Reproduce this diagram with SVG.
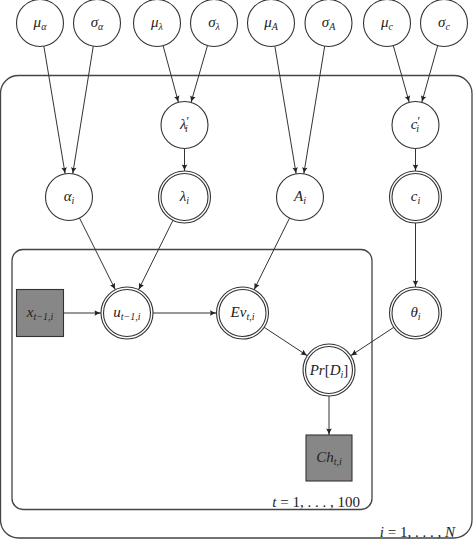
<svg xmlns="http://www.w3.org/2000/svg" width="474" height="539" viewBox="0 0 474 539">
<defs>
<marker id="arr" markerUnits="userSpaceOnUse" markerWidth="8" markerHeight="8" refX="7" refY="4" orient="auto">
<path d="M0.5,1.2 Q4,3.3 7,4 Q4,4.7 0.5,6.8 Q2,4 0.5,1.2 Z" fill="#222"/>
</marker>
</defs>
<style>
.n{fill:#fff;stroke:#333;stroke-width:1.1}
.obs{fill:#878787;stroke:#333;stroke-width:1.1}
.plate{fill:none;stroke:#444;stroke-width:1.3}
.e{stroke:#333;stroke-width:1;fill:none;marker-end:url(#arr)}
.t{font-family:"Liberation Serif","DejaVu Serif",serif;font-style:italic;font-size:15px;fill:#222;text-anchor:middle}
.s{font-size:10px}
.pr{font-size:12px;font-style:normal}
.p{font-family:"Liberation Serif","DejaVu Serif",serif;font-size:15px;fill:#222}
.up{font-style:normal}
</style>
<rect width="474" height="539" fill="#fff"/>
<g id="plates">
<rect class="plate" x="0.5" y="75.5" width="471.5" height="462.5" rx="18"/>
<rect class="plate" x="12" y="249.5" width="360" height="260" rx="11"/>
<text class="p" x="360" y="507" text-anchor="end"><tspan font-style="italic">t</tspan> = 1, . . . , 100</text>
<text class="p" x="455" y="537" text-anchor="end"><tspan font-style="italic">i</tspan> = 1, . . . , <tspan font-style="italic">N</tspan></text>
</g>
<g id="connectors">
<line class="e" x1="43.86" y1="46.18" x2="65.14" y2="173.82"/>
<line class="e" x1="93.27" y1="46.2" x2="72.73" y2="173.8"/>
<line class="e" x1="163.12" y1="45.69" x2="178.38" y2="102.31"/>
<line class="e" x1="207.47" y1="45.58" x2="191.03" y2="102.42"/>
<line class="e" x1="184.5" y1="148.5" x2="184.5" y2="171"/>
<line class="e" x1="274.86" y1="46.18" x2="296.14" y2="173.82"/>
<line class="e" x1="324.7" y1="46.19" x2="303.8" y2="173.81"/>
<line class="e" x1="393.32" y1="45.63" x2="409.18" y2="102.37"/>
<line class="e" x1="437.68" y1="45.63" x2="421.82" y2="102.37"/>
<line class="e" x1="415.5" y1="148.5" x2="415.5" y2="171"/>
<line class="e" x1="415.5" y1="223" x2="415.5" y2="287"/>
<line class="e" x1="79.51" y1="218.02" x2="115.37" y2="289.74"/>
<line class="e" x1="172.95" y1="220.29" x2="138.55" y2="289.71"/>
<line class="e" x1="289.56" y1="218.05" x2="254.05" y2="289.71"/>
<line class="e" x1="63.5" y1="313" x2="101" y2="313"/>
<line class="e" x1="153" y1="313" x2="216.5" y2="313"/>
<line class="e" x1="264.21" y1="327.31" x2="307.29" y2="355.69"/>
<line class="e" x1="393.79" y1="327.31" x2="350.71" y2="355.69"/>
<line class="e" x1="329" y1="396" x2="329" y2="435"/>
</g>
<g id="mu_alpha"><circle class="n" cx="40" cy="23" r="23.5"/><text class="t" x="40" y="27">μ<tspan class="s" dy="3">α</tspan></text></g>
<g id="sigma_alpha"><circle class="n" cx="97" cy="23" r="23.5"/><text class="t" x="97" y="27">σ<tspan class="s" dy="3">α</tspan></text></g>
<g id="mu_lambda"><circle class="n" cx="157" cy="23" r="23.5"/><text class="t" x="157" y="27">μ<tspan class="s" dy="3">λ</tspan></text></g>
<g id="sigma_lambda"><circle class="n" cx="214" cy="23" r="23.5"/><text class="t" x="214" y="27">σ<tspan class="s" dy="3">λ</tspan></text></g>
<g id="mu_A"><circle class="n" cx="271" cy="23" r="23.5"/><text class="t" x="271" y="27">μ<tspan class="s" dy="3">A</tspan></text></g>
<g id="sigma_A"><circle class="n" cx="328.5" cy="23" r="23.5"/><text class="t" x="328.5" y="27">σ<tspan class="s" dy="3">A</tspan></text></g>
<g id="mu_c"><circle class="n" cx="387" cy="23" r="23.5"/><text class="t" x="387" y="27">μ<tspan class="s" dy="3">c</tspan></text></g>
<g id="sigma_c"><circle class="n" cx="444" cy="23" r="23.5"/><text class="t" x="444" y="27">σ<tspan class="s" dy="3">c</tspan></text></g>
<g id="lambda_prime"><circle class="n" cx="184.5" cy="125" r="23.5"/><text class="t" x="184.5" y="129">λ<tspan class="pr" dy="-4">′</tspan><tspan class="s" dx="-4" dy="7">i</tspan></text></g>
<g id="c_prime"><circle class="n" cx="415.5" cy="125" r="23.5"/><text class="t" x="415.5" y="129">c<tspan class="pr" dy="-4">′</tspan><tspan class="s" dx="-4" dy="7">i</tspan></text></g>
<g id="alpha"><circle class="n" cx="69" cy="197" r="23.5"/><text class="t" x="69" y="201">α<tspan class="s" dy="3">i</tspan></text></g>
<g id="lambda"><circle class="n" cx="184.5" cy="197" r="26"/><circle class="n" cx="184.5" cy="197" r="23.5"/><text class="t" x="184.5" y="201">λ<tspan class="s" dy="3">i</tspan></text></g>
<g id="A"><circle class="n" cx="300" cy="197" r="23.5"/><text class="t" x="300" y="201">A<tspan class="s" dy="3">i</tspan></text></g>
<g id="c"><circle class="n" cx="415.5" cy="197" r="26"/><circle class="n" cx="415.5" cy="197" r="23.5"/><text class="t" x="415.5" y="201">c<tspan class="s" dy="3">i</tspan></text></g>
<g id="x"><rect class="obs" x="16.5" y="289.5" width="47" height="47"/><text class="t" x="40" y="317">x<tspan class="s" dy="3">t−1,i</tspan></text></g>
<g id="u"><circle class="n" cx="127" cy="313" r="26"/><circle class="n" cx="127" cy="313" r="23.5"/><text class="t" x="127" y="317">u<tspan class="s" dy="3">t−1,i</tspan></text></g>
<g id="Ev"><circle class="n" cx="242.5" cy="313" r="26"/><circle class="n" cx="242.5" cy="313" r="23.5"/><text class="t" x="242.5" y="317">Ev<tspan class="s" dy="3">t,i</tspan></text></g>
<g id="theta"><circle class="n" cx="415.5" cy="313" r="26"/><circle class="n" cx="415.5" cy="313" r="23.5"/><text class="t" x="415.5" y="317">θ<tspan class="s" dy="3">i</tspan></text></g>
<g id="Pr"><circle class="n" cx="329" cy="370" r="26"/><circle class="n" cx="329" cy="370" r="23.5"/><text class="t" x="329" y="375">Pr<tspan class="up">[</tspan>D<tspan class="s" dy="3">i</tspan><tspan class="up" dy="-3">]</tspan></text></g>
<g id="Ch"><rect class="obs" x="306" y="435" width="46" height="46"/><text class="t" x="329" y="462">Ch<tspan class="s" dy="3">t,i</tspan></text></g>
</svg>
